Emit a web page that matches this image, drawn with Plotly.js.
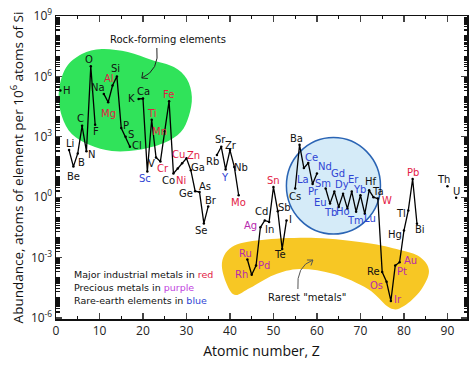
<!DOCTYPE html>
<html>
<head>
<meta charset="utf-8">
<script src="https://cdn.plot.ly/plotly-3.0.1.min.js"></script>
<style>html,body{margin:0;padding:0;background:#fff;}#chart{width:474px;height:366px;}</style>
</head>
<body>
<div id="chart"></div>
<script>
// ---- DATA (atoms of element per 10^6 atoms of Si) ----
const elements = ['H','He','Li','Be','B','C','N','O','F','Ne',
  'Na','Mg','Al','Si','P','S','Cl','Ar','K','Ca',
  'Sc','Ti','V','Cr','Mn','Fe','Co','Ni','Cu','Zn',
  'Ga','Ge','As','Se','Br','Kr','Rb','Sr','Y','Zr',
  'Nb','Mo','Tc','Ru','Rh','Pd','Ag','Cd','In','Sn',
  'Sb','Te','I','Xe','Cs','Ba','La','Ce','Pr','Nd',
  'Pm','Sm','Eu','Gd','Tb','Dy','Ho','Er','Tm','Yb',
  'Lu','Hf','Ta','W','Re','Os','Ir','Pt','Au','Hg',
  'Tl','Pb','Bi','Po','At','Rn','Fr','Ra','Ac','Th',
  'Pa','U'];
const abundance = [2e5, null, 220, 33, 150, 3500, 190, 3.2e6, 4000, null,
  1.35e5, 5.2e4, 3.5e5, 1e6, 2700, 1000, 320, null, 7.6e4, 8.0e4,
  19, 7000, 95, 59, 1900, 5.9e4, 15, 27, 48, 85,
  22, 2.0, 1.8, 0.05, 0.35, null, 125, 320, 24, 220,
  32, 1.25, null, 8e-4, 1.4e-4, 4e-4, 0.032, 0.07, 0.059, 3.2,
  0.2, 0.0027, 0.07, null, 2.7, 400, 28, 50, 4.5, 15,
  null, 2.7, 0.48, 1.9, 0.33, 1.5, 0.27, 1.9, 0.19, 1.25,
  0.15, 2.2, 1.0, 0.85, 1.9e-4, 6.3e-5, 7e-6, 4e-4, 5.9e-4, 0.022,
  0.22, 8, 0.048, null, null, null, null, null, null, 3.5,
  null, 0.95];
const atomicNumber = elements.map((e, i) => i + 1);
const industrialMetals = ['Mg','Al','Ti','Cr','Mn','Fe','Ni','Cu','Zn','Mo','Sn','W','Pb'];
const preciousMetals = ['Ru','Rh','Pd','Ag','Os','Ir','Pt','Au'];
const rareEarths = ['Sc','Y','La','Ce','Pr','Nd','Sm','Eu','Gd','Tb','Dy','Ho','Er','Tm','Yb','Lu'];
const xTickVals = [0,10,20,30,40,50,60,70,80,90];
const yLabelExps = [-6,-3,0,3,6,9];

// ---- label placement (pixel offsets from each point: dx right, dy down) ----
const labelOffsets = {
  H:[7,0], Li:[1,-7], Be:[0,10], B:[4,9], C:[-2,-7], N:[5,3], O:[-2,-7], F:[1,7],
  Na:[-6,-6], Mg:[0,11], Al:[-4,-7], Si:[-1,-8], P:[5,-3], S:[5,-2], Cl:[7,-1],
  K:[-7,0], Ca:[1,-7], Sc:[-2,7], Ti:[0,-6], V:[-5,6], Cr:[3,7], Mn:[-5,0], Fe:[-1,-7],
  Co:[-5,7], Ni:[3,12], Cu:[-4,-9], Zn:[7,-3], Ga:[7,-3], Ge:[-9,2], As:[5,-6],
  Se:[-2,7], Br:[3,-6], Rb:[-4,7], Sr:[-1,-7], Y:[-1,8], Zr:[1,-5], Nb:[7,1], Mo:[0,7],
  Ru:[-2,-6], Rh:[-10,0], Pd:[8,0], Ag:[-10,-2], Cd:[-3,-9], In:[0,8], Sn:[0,-7],
  Sb:[7,-4], Te:[-2,6], I:[4,-1], Cs:[0,8], Ba:[-3,-6], La:[-1,11], Ce:[3,-5], Pr:[1,7],
  Nd:[8,-7], Sm:[-3,-5], Eu:[-10,-1], Gd:[4,-18], Tb:[-8,6], Dy:[-1,-9], Ho:[-4,3],
  Er:[2,-12], Tm:[-1,9], Yb:[-1,-6], Lu:[5,5], Hf:[2,-9], Ta:[5,-6], W:[9,2],
  Re:[-9,-1], Os:[-10,4], Ir:[7,-1], Pt:[7,6], Au:[11,-2], Hg:[-9,4], Tl:[-7,3],
  Pb:[0,-7], Bi:[3,6], Th:[-4,-7], U:[0,-6]
};

const RED = '#e31a45', PURPLE = '#b62aae', BLUE = '#2f44d4';
function colorOf(e) {
  if (industrialMetals.includes(e)) return RED;
  if (preciousMetals.includes(e)) return PURPLE;
  if (rareEarths.includes(e)) return BLUE;
  return '#111';
}

// plot area in pixels (for decorative shapes given in paper coordinates)
const L = 56.2, R = 467, T = 16, B = 319;
const px = x => (x - L) / (R - L);
const py = y => (B - y) / (B - T);
function blob(pts) { // closed smooth path (Catmull-Rom -> Bezier) in paper coords
  const n = pts.length;
  let d = 'M ' + px(pts[0][0]) + ',' + py(pts[0][1]);
  for (let i = 0; i < n; i++) {
    const p0 = pts[(i - 1 + n) % n], p1 = pts[i], p2 = pts[(i + 1) % n], p3 = pts[(i + 2) % n];
    const c1 = [p1[0] + (p2[0] - p0[0]) / 6, p1[1] + (p2[1] - p0[1]) / 6];
    const c2 = [p2[0] - (p3[0] - p1[0]) / 6, p2[1] - (p3[1] - p1[1]) / 6];
    d += ' C ' + px(c1[0]) + ',' + py(c1[1]) + ' ' + px(c2[0]) + ',' + py(c2[1]) + ' ' + px(p2[0]) + ',' + py(p2[1]);
  }
  return d + ' Z';
}
function curve(a, c, b) {
  return 'M ' + px(a[0]) + ',' + py(a[1]) + ' Q ' + px(c[0]) + ',' + py(c[1]) + ' ' + px(b[0]) + ',' + py(b[1]);
}
function head(tip, p1, p2) {
  return 'M ' + px(p1[0]) + ',' + py(p1[1]) + ' L ' + px(tip[0]) + ',' + py(tip[1]) + ' L ' + px(p2[0]) + ',' + py(p2[1]);
}

const greenPts = [[59,92],[66,68],[82,54],[102,49],[128,52],[152,60],[174,67],[187,79],[192,97],[189,116],[181,132],[164,143],[138,150],[112,151],[90,145],[72,134],[62,116]];
const yellowPts = [[222,266],[232,247],[262,240],[316,238],[367,243],[400,250],[420,257],[429,271],[421,290],[404,306],[390,308],[368,289],[334,274],[300,269],[274,275],[250,288],[233,294]];

const shapes = [
  {type:'path', xref:'paper', yref:'paper', path: blob(greenPts), fillcolor:'#30e35a', line:{width:0}, layer:'below'},
  {type:'path', xref:'paper', yref:'paper', path: blob(yellowPts), fillcolor:'#f7c724', line:{width:0}, layer:'below'},
  {type:'circle', xref:'paper', yref:'paper', x0:px(286.5), x1:px(380.5), y0:py(234), y1:py(137.5),
   fillcolor:'#d5ebf8', line:{color:'#2a64b4', width:1.5}, layer:'below'},
  {type:'path', xref:'paper', yref:'paper', path: curve([157,48],[160,70],[142,78]), line:{color:'#222', width:1}},
  {type:'path', xref:'paper', yref:'paper', path: head([142,78],[143,72],[148,78.5]), line:{color:'#222', width:1}},
  {type:'path', xref:'paper', yref:'paper', path: curve([298,289],[296,266],[313,260]), line:{color:'#555', width:1}},
  {type:'path', xref:'paper', yref:'paper', path: head([313,260],[307,260],[311,265.5]), line:{color:'#555', width:1}}
];

const annotations = [];
elements.forEach((e, i) => {
  if (abundance[i] === null) return;
  const off = labelOffsets[e] || [0, -7];
  annotations.push({x: atomicNumber[i], y: Math.log10(abundance[i]), xref:'x', yref:'y',
    xanchor:'center', yanchor:'middle',
    text: e, showarrow:false, xshift: off[0], yshift: -off[1],
    font:{family:'DejaVu Sans', size:10, color: colorOf(e)}});
});
annotations.push({xref:'paper', yref:'paper', x:px(168), y:py(40), xanchor:'center', yanchor:'middle',
  text:'Rock-forming elements', showarrow:false, font:{family:'DejaVu Sans', size:10, color:'#111'}});
annotations.push({xref:'paper', yref:'paper', x:px(307), y:py(297), xanchor:'center', yanchor:'middle',
  text:'Rarest "metals"', showarrow:false, font:{family:'DejaVu Sans', size:10, color:'#111'}});
const legendLines = [
  'Major industrial metals in <span style="color:' + RED + '">red</span>',
  'Precious metals in <span style="color:#c13fe0">purple</span>',
  'Rare-earth elements in <span style="color:' + BLUE + '">blue</span>'];
legendLines.forEach((t, k) => annotations.push({xref:'paper', yref:'paper', x:px(72), y:py(274.3 + 13 * k),
  xanchor:'left', yanchor:'middle', text:t, showarrow:false, font:{family:'DejaVu Sans', size:9.5, color:'#111'}}));

const yMajor = [], yText = [], yMinor = [];
for (let n = -6; n <= 9; n++) {
  if (yLabelExps.includes(n)) { yMajor.push(Math.pow(10, n)); yText.push('10<sup>' + n + '</sup>'); }
  else yMinor.push(Math.pow(10, n));
  if (n < 9) for (let m = 2; m <= 9; m++) yMinor.push(m * Math.pow(10, n));
}

const trace = {
  x: atomicNumber, y: abundance, type:'scatter', mode:'lines+markers', connectgaps:false,
  line:{color:'#000', width:1.3}, marker:{color:'#000', size:2.5}, hoverinfo:'skip'
};

const layout = {
  width:474, height:366, margin:{l:56, r:7, t:16, b:47},
  paper_bgcolor:'#fff', plot_bgcolor:'#fff', showlegend:false,
  font:{family:'Open Sans', color:'#222'},
  xaxis:{range:[0, 94.5], tickvals:xTickVals, ticks:'inside', ticklen:6, tickwidth:1.3, mirror:'ticks',
    showline:true, linecolor:'#111', linewidth:1.5, showgrid:false, zeroline:false,
    tickfont:{family:'Open Sans', size:12, color:'#222'},
    minor:{tickvals:[5,15,25,35,45,55,65,75,85], ticks:'inside', ticklen:3, tickcolor:'#111'},
    title:{text:'Atomic number, Z', font:{family:'Open Sans', size:14, color:'#111'}, standoff:8}},
  yaxis:{type:'log', range:[-6.05, 9], tickvals:yMajor, ticktext:yText, ticks:'inside', ticklen:6, tickwidth:1.3,
    mirror:'ticks', showline:true, linecolor:'#111', linewidth:1.5, showgrid:false, zeroline:false,
    tickfont:{family:'Open Sans', size:12, color:'#222'},
    minor:{tickvals:yMinor, ticks:'inside', ticklen:3.5, tickcolor:'#111'},
    title:{text:'Abundance, atoms of element per 10<sup>6</sup> atoms of Si', font:{family:'Open Sans', size:13.5, color:'#111'}, standoff:4}},
  shapes: shapes, annotations: annotations
};

Plotly.newPlot('chart', [trace], layout, {displayModeBar:false, staticPlot:true});
</script>
</body>
</html>
